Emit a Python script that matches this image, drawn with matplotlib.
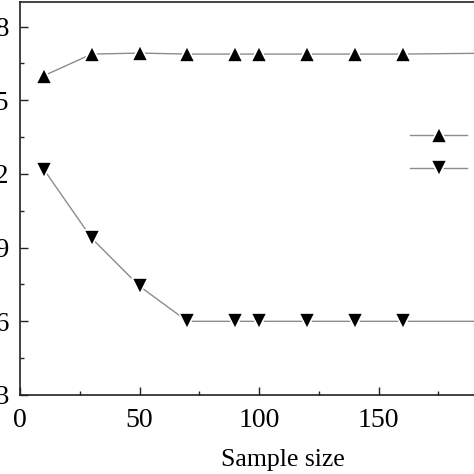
import matplotlib
matplotlib.use("Agg")
import matplotlib.pyplot as plt
from matplotlib.ticker import MultipleLocator, FormatStrFormatter

plt.rcParams['font.family'] = ['Liberation Serif', 'DejaVu Serif']

sample_size = [10, 30, 50, 70, 90, 100, 120, 140, 160, 200]
upper_vals = [0.160, 0.1688, 0.1692, 0.1688, 0.1688, 0.1688, 0.1688, 0.1688, 0.1688, 0.1692]
lower_vals = [0.1218, 0.0938, 0.0743, 0.0600, 0.0600, 0.0600, 0.0600, 0.0600, 0.0600, 0.0600]
series_labels = ['Upper', 'Lower']
x_label = 'Sample size'

fig = plt.figure(figsize=(4.74, 4.74), dpi=100)
ax = fig.add_axes([20/474, 79/474, 526/474, 393/474])

line_kw = dict(color='#8c8c8c', lw=1.0, mfc='black', mec='white', mew=1.2, ms=11.5)
ax.plot(sample_size, upper_vals, marker='^', label=series_labels[0], **line_kw)
ax.plot(sample_size, lower_vals, marker='v', label=series_labels[1], **line_kw)

ax.set_xlim(0, 220)
ax.set_ylim(0.03, 0.19)
ax.xaxis.set_major_locator(MultipleLocator(50))
ax.xaxis.set_minor_locator(MultipleLocator(25))
ax.yaxis.set_major_locator(MultipleLocator(0.03))
ax.yaxis.set_minor_locator(MultipleLocator(0.015))
ax.yaxis.set_major_formatter(FormatStrFormatter('%.2f'))

ax.tick_params(which='both', direction='in', labelsize=20, color='#222222')
ax.tick_params(which='major', length=6, width=1.0)
ax.tick_params(which='minor', length=2.8, width=1.0)
ax.tick_params(axis='x', pad=9.5)
ax.tick_params(axis='y', pad=8)
ax.tick_params(top=False, right=False, which='both')

for s in ax.spines.values():
    s.set_linewidth(1.2)
    s.set_color('#222222')

ax.set_xlabel(x_label, fontsize=18.5, labelpad=11.5)

leg = ax.legend(loc='center left', bbox_to_anchor=(410/474, 1 - 154/474),
                bbox_transform=fig.transFigure, frameon=False, fontsize=15,
                handlelength=2.74, borderpad=0, borderaxespad=0,
                labelspacing=0.62, handletextpad=0.8)

fig.savefig('out.png', dpi=100)
